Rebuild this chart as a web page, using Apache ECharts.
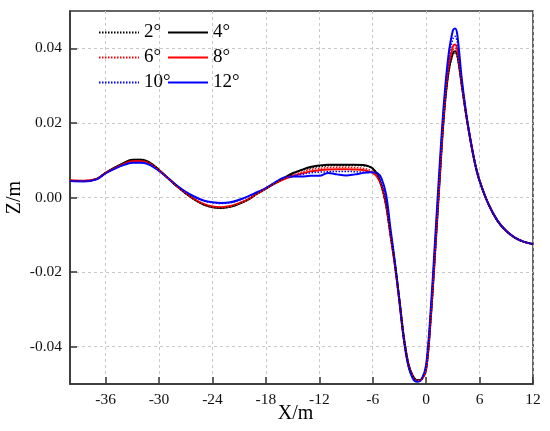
<!DOCTYPE html>
<html>
<head>
<meta charset="utf-8">
<script src="https://cdn.jsdelivr.net/npm/echarts@6/dist/echarts.min.js"></script>
<style>html,body{margin:0;padding:0;background:#fff}#c{width:550px;height:431px}</style>
</head>
<body>
<div id="c"></div>
<script>
const X = [-40, -38.5, -37, -36, -35, -34, -33, -32, -31, -30, -29, -28, -27, -26, -25, -24, -23, -22, -21, -20,
  -19, -18, -17, -16, -15, -14, -13, -12, -11, -10, -9, -8, -7, -6.5, -6, -5.5, -5, -4.5, -4, -3.5,
  -3, -2.5, -2, -1.5, -1, -0.5, 0, 0.5, 1, 1.5, 2, 2.5, 3, 3.25, 3.5, 4, 4.5, 5, 5.5, 6,
  7, 8, 9, 10, 11, 12];

const deg2 = [0.0045, 0.0044, 0.0050, 0.0066, 0.0080, 0.0092, 0.0101, 0.0102, 0.0093, 0.0074, 0.0052, 0.0030, 0.0011, -0.0006, -0.0019, -0.0026, -0.0028, -0.0025, -0.0017, -0.0006,
  0.0010, 0.0024, 0.0038, 0.0051, 0.0063, 0.0072, 0.0079, 0.0083, 0.0085, 0.0086, 0.0086, 0.0086, 0.0085, 0.0083, 0.0077, 0.0061, 0.0030, -0.0020, -0.0100, -0.0180,
  -0.0275, -0.0375, -0.0445, -0.0478, -0.0490, -0.0487, -0.0460, -0.0330, -0.0150, 0.0040, 0.0218, 0.0332, 0.0383, 0.0388, 0.0378, 0.0300, 0.0220, 0.0150, 0.0090, 0.0045,
  -0.0018, -0.0062, -0.0090, -0.0108, -0.0119, -0.0125];

const deg4 = [0.0045, 0.0044, 0.0050, 0.0066, 0.0080, 0.0092, 0.0101, 0.0101, 0.0093, 0.0074, 0.0052, 0.0030, 0.0011, -0.0006, -0.0019, -0.0026, -0.0028, -0.0025, -0.0017, -0.0006,
  0.0010, 0.0024, 0.0038, 0.0052, 0.0065, 0.0074, 0.0082, 0.0086, 0.0088, 0.0088, 0.0088, 0.0088, 0.0087, 0.0084, 0.0078, 0.0062, 0.0030, -0.0020, -0.0100, -0.0180,
  -0.0275, -0.0375, -0.0445, -0.0478, -0.0490, -0.0487, -0.0460, -0.0330, -0.0150, 0.0040, 0.0220, 0.0335, 0.0388, 0.0392, 0.0382, 0.0300, 0.0220, 0.0150, 0.0090, 0.0045,
  -0.0018, -0.0062, -0.0090, -0.0108, -0.0119, -0.0125];

const deg6 = [0.0045, 0.0044, 0.0050, 0.0066, 0.0079, 0.0090, 0.0098, 0.0098, 0.0091, 0.0073, 0.0052, 0.0030, 0.0012, -0.0005, -0.0018, -0.0025, -0.0027, -0.0024, -0.0016, -0.0005,
  0.0010, 0.0024, 0.0038, 0.0050, 0.0060, 0.0068, 0.0075, 0.0078, 0.0080, 0.0081, 0.0081, 0.0080, 0.0078, 0.0075, 0.0070, 0.0058, 0.0030, -0.0020, -0.0100, -0.0182,
  -0.0278, -0.0378, -0.0447, -0.0480, -0.0491, -0.0488, -0.0460, -0.0328, -0.0146, 0.0045, 0.0226, 0.0342, 0.0396, 0.0400, 0.0388, 0.0302, 0.0220, 0.0150, 0.0090, 0.0045,
  -0.0018, -0.0062, -0.0090, -0.0108, -0.0119, -0.0125];

const deg8 = [0.0046, 0.0045, 0.0050, 0.0066, 0.0078, 0.0089, 0.0097, 0.0097, 0.0090, 0.0073, 0.0052, 0.0031, 0.0012, -0.0005, -0.0017, -0.0024, -0.0026, -0.0023, -0.0015, -0.0005,
  0.0010, 0.0024, 0.0038, 0.0049, 0.0057, 0.0064, 0.0070, 0.0073, 0.0075, 0.0076, 0.0076, 0.0075, 0.0073, 0.0070, 0.0066, 0.0055, 0.0030, -0.0020, -0.0102, -0.0184,
  -0.0280, -0.0380, -0.0448, -0.0481, -0.0492, -0.0488, -0.0458, -0.0325, -0.0142, 0.0050, 0.0232, 0.0350, 0.0405, 0.0410, 0.0395, 0.0305, 0.0221, 0.0150, 0.0090, 0.0045,
  -0.0018, -0.0062, -0.0090, -0.0108, -0.0119, -0.0125];

const deg10 = [0.0044, 0.0044, 0.0049, 0.0065, 0.0077, 0.0087, 0.0094, 0.0094, 0.0088, 0.0072, 0.0052, 0.0032, 0.0014, 0.0001, -0.0009, -0.0014, -0.0016, -0.0014, -0.0007, 0.0002,
  0.0013, 0.0025, 0.0040, 0.0052, 0.0058, 0.0062, 0.0066, 0.0068, 0.0069, 0.0070, 0.0070, 0.0069, 0.0068, 0.0068, 0.0068, 0.0062, 0.0040, -0.0005, -0.0090, -0.0178,
  -0.0278, -0.0380, -0.0450, -0.0483, -0.0493, -0.0487, -0.0452, -0.0312, -0.0125, 0.0070, 0.0245, 0.0368, 0.0425, 0.0432, 0.0415, 0.0312, 0.0223, 0.0151, 0.0090, 0.0045,
  -0.0018, -0.0062, -0.0090, -0.0108, -0.0119, -0.0125];

const deg12 = [0.0044, 0.0043, 0.0049, 0.0065, 0.0077, 0.0087, 0.0093, 0.0093, 0.0087, 0.0071, 0.0052, 0.0032, 0.0015, 0.0002, -0.0008, -0.0013, -0.0015, -0.0013, -0.0006, 0.0003,
  0.0014, 0.0025, 0.0040, 0.0053, 0.0056, 0.0056, 0.0058, 0.0058, 0.0066, 0.0062, 0.0059, 0.0062, 0.0066, 0.0067, 0.0068, 0.0066, 0.0050, 0.0008, -0.0085, -0.0175,
  -0.0278, -0.0382, -0.0452, -0.0485, -0.0494, -0.0487, -0.0448, -0.0305, -0.0115, 0.0080, 0.0255, 0.0380, 0.0448, 0.0453, 0.0436, 0.0318, 0.0225, 0.0152, 0.0090, 0.0045,
  -0.0018, -0.0062, -0.0090, -0.0108, -0.0119, -0.0125];

const xTicks = [-36, -30, -24, -18, -12, -6, 0, 6, 12];
const yTicks = [-0.04, -0.02, 0, 0.02, 0.04];

const seriesDefs = [
  { name: '2°', data: deg2, color: '#000000', type: 'dotted' },
  { name: '4°', data: deg4, color: '#000000', type: 'solid' },
  { name: '6°', data: deg6, color: '#ff0000', type: 'dotted' },
  { name: '8°', data: deg8, color: '#ff0000', type: 'solid' },
  { name: '10°', data: deg10, color: '#0000ff', type: 'dotted' },
  { name: '12°', data: deg12, color: '#0000ff', type: 'solid' }
];

const font = 'Liberation Serif';
const chart = echarts.init(document.getElementById('c'), null, { renderer: 'canvas' });
const legendCommon = {
  orient: 'vertical', top: 23, itemWidth: 40, itemHeight: 14, itemGap: 6, padding: 0,
  itemStyle: { opacity: 0 },
  textStyle: { fontFamily: font, fontSize: 19, color: '#000' }, selectedMode: false
};
chart.setOption({
  animation: false,
  backgroundColor: '#fff',
  grid: { left: 70, right: 17, top: 11, bottom: 47, outerBoundsMode: 'none', containLabel: false,
    show: true, borderColor: '#333', borderWidth: 1.5, backgroundColor: 'transparent' },
  legend: [
    Object.assign({ data: ['2°', '6°', '10°'], left: 98 }, legendCommon),
    Object.assign({ data: ['4°', '8°', '12°'], left: 167 }, legendCommon)
  ],
  xAxis: {
    type: 'value', min: -40, max: 12,
    name: 'X/m', nameLocation: 'middle', nameGap: 20, nameMoveOverlap: false,
    nameTextStyle: { fontFamily: font, fontSize: 20, color: '#000', padding: [0, 12, 0, 0] },
    axisLine: { show: true, onZero: false, lineStyle: { color: '#333', width: 1.5 } },
    axisTick: { show: true, inside: true, length: 7, lineStyle: { color: '#333', width: 1.5 }, customValues: xTicks },
    axisLabel: { fontFamily: font, fontSize: 15.5, color: '#111', margin: 8, customValues: xTicks },
    splitLine: { show: true, lineStyle: { color: '#c8c8c8', type: [3, 3], width: 1 } }
  },
  yAxis: {
    type: 'value', min: -0.05, max: 0.05,
    name: 'Z/m', nameLocation: 'middle', nameGap: 45, nameMoveOverlap: false,
    nameTextStyle: { fontFamily: font, fontSize: 20, color: '#000' },
    axisLine: { show: true, onZero: false, lineStyle: { color: '#333', width: 1.5 } },
    axisTick: { show: true, inside: true, length: 7, lineStyle: { color: '#333', width: 1.5 }, customValues: yTicks },
    axisLabel: { fontFamily: font, fontSize: 15.5, color: '#111', margin: 8, customValues: yTicks, formatter: v => v.toFixed(2) },
    splitLine: { show: true, lineStyle: { color: '#c8c8c8', type: [3, 3], width: 1 } }
  },
  series: seriesDefs.map(s => ({
    name: s.name, type: 'line', symbol: 'none', smooth: 0.35,
    data: X.map((x, i) => [x, s.data[i]]),
    lineStyle: { color: s.color, width: s.type === 'dotted' ? 1.5 : 2, type: s.type === 'dotted' ? [1.5, 1.5] : 'solid' },
    itemStyle: { color: s.color },
    z: s.type === 'dotted' ? 3 : 2
  }))
});
</script>
</body>
</html>
